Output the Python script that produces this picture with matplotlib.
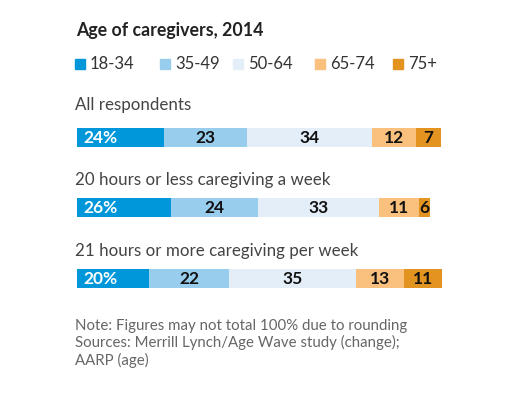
import matplotlib.pyplot as plt
from matplotlib.patches import Rectangle

# ---------------------------------------------------------
# DATA
# ---------------------------------------------------------
title = "Age of caregivers, 2014"
age_groups = ["18-34", "35-49", "50-64", "65-74", "75+"]
row_names = [
    "All respondents",
    "20 hours or less caregiving a week",
    "21 hours or more caregiving per week",
]
# segment widths as drawn (percent)
seg_all   = [24, 23, 34.5, 12, 7]
seg_le20  = [26, 24, 33.3, 11.1, 3.2]
seg_ge21  = [20, 22, 35.2, 13, 10.6]
# printed labels
lab_all   = ["24%", "23", "34", "12", "7"]
lab_le20  = ["26%", "24", "33", "11", "6"]
lab_ge21  = ["20%", "22", "35", "13", "11"]

note_lines = [
    "Note: Figures may not total 100% due to rounding",
    "Sources: Merrill Lynch/Age Wave study (change);",
    "AARP (age)",
]

colors = ["#0097DA", "#98CDEE", "#E4EEF8", "#FAC17E", "#E29320"]
text_colors = ["white", "#111111", "#111111", "#111111", "#111111"]

# ---------------------------------------------------------
# FIGURE
# ---------------------------------------------------------
W, H = 519, 394
fig = plt.figure(figsize=(W / 100, H / 100), dpi=100)
plt.rcParams["font.family"] = ["Lato", "DejaVu Sans"]


def fx(x):
    return x / W


def fy(y):
    return 1 - y / H


# title
fig.text(fx(76), fy(36), title, fontsize=12.8, fontweight="bold",
         color="#222222", va="baseline", ha="left")

# legend (manual)
leg_x = [75, 160, 233, 315, 393]
for x, name, c in zip(leg_x, age_groups, colors):
    fig.patches.append(Rectangle((fx(x), fy(69)), 10 / W, 10 / H,
                                 transform=fig.transFigure, color=c))
    fig.text(fx(x + 15), fy(69), name, fontsize=12, color="#333333",
             va="baseline", ha="left")

# bars
bar_left = 76.5
bar_w = 362.6
bar_h = 19
bar_tops = [128, 198, 269]
label_base = [110, 185, 256]
segs = [seg_all, seg_le20, seg_ge21]
labs = [lab_all, lab_le20, lab_ge21]

for top, lb, name, vals, texts in zip(bar_tops, label_base, row_names, segs, labs):
    fig.text(fx(75), fy(lb), name, fontsize=12.2, color="#444444",
             va="baseline", ha="left")
    ax = fig.add_axes([fx(bar_left), fy(top + bar_h), bar_w / W, bar_h / H])
    ax.set_xlim(0, 100)
    ax.set_ylim(0, 1)
    ax.axis("off")
    left = 0
    for i, (v, t) in enumerate(zip(vals, texts)):
        ax.barh(0.5, v, left=left, height=1, color=colors[i],
                edgecolor="none", clip_on=False)
        if i == 0:
            ax.text(left + 1.8, 0.45, t, ha="left", va="center",
                    fontsize=12.5, fontweight="bold", color=text_colors[i])
        else:
            ax.text(left + v / 2, 0.45, t, ha="center", va="center",
                    fontsize=12.5, fontweight="bold", color=text_colors[i],
                    clip_on=False)
        left += v

# note
for k, line in enumerate(note_lines):
    fig.text(fx(75), fy(330 + k * 17.5), line, fontsize=10.8,
             color="#666666", va="baseline", ha="left")

fig.savefig("out.png", dpi=100)
